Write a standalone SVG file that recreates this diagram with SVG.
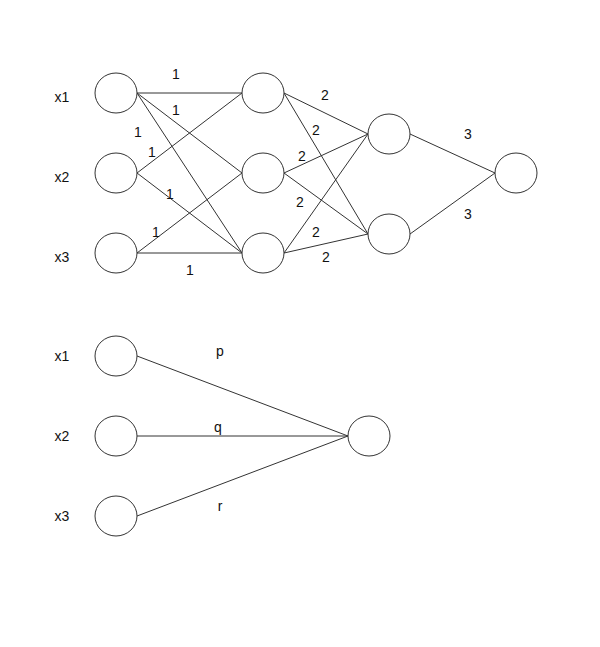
<svg xmlns="http://www.w3.org/2000/svg" width="600" height="647" viewBox="0 0 600 647">
<style>
.n{fill:#fff;stroke:#333;stroke-width:1}
.c line{stroke:#333;stroke-width:1}
text{font-family:"Liberation Sans",Arial,sans-serif;font-size:14px;fill:#111;text-anchor:middle}
</style>
<rect width="600" height="647" fill="#fff"/>
<g class="c">
<line x1="137" y1="93" x2="242" y2="93"/><line x1="137" y1="93" x2="242" y2="173"/><line x1="137" y1="93" x2="242" y2="253"/>
<line x1="137" y1="173" x2="242" y2="93"/><line x1="137" y1="173" x2="242" y2="253"/>
<line x1="137" y1="253" x2="242" y2="173"/><line x1="137" y1="253" x2="242" y2="253"/>
<line x1="284" y1="93" x2="368" y2="134"/><line x1="284" y1="93" x2="368" y2="234"/>
<line x1="284" y1="173" x2="368" y2="134"/><line x1="284" y1="173" x2="368" y2="234"/>
<line x1="284" y1="253" x2="368" y2="134"/><line x1="284" y1="253" x2="368" y2="234"/>
<line x1="410" y1="134" x2="495" y2="173"/><line x1="410" y1="234" x2="495" y2="173"/>
<line x1="137" y1="356" x2="348" y2="436"/><line x1="137" y1="436" x2="348" y2="436"/><line x1="137" y1="516" x2="348" y2="436"/>
</g>
<g id="a1"><ellipse class="n" cx="116" cy="93" rx="21" ry="20"/></g>
<g id="a2"><ellipse class="n" cx="116" cy="173" rx="21" ry="20"/></g>
<g id="a3"><ellipse class="n" cx="116" cy="253" rx="21" ry="20"/></g>
<g id="b1"><ellipse class="n" cx="263" cy="93" rx="21" ry="20"/></g>
<g id="b2"><ellipse class="n" cx="263" cy="173" rx="21" ry="20"/></g>
<g id="b3"><ellipse class="n" cx="263" cy="253" rx="21" ry="20"/></g>
<g id="c1"><ellipse class="n" cx="389" cy="134" rx="21" ry="20"/></g>
<g id="c2"><ellipse class="n" cx="389" cy="234" rx="21" ry="20"/></g>
<g id="d"><ellipse class="n" cx="516" cy="173" rx="21" ry="20"/></g>
<g id="e1"><ellipse class="n" cx="116" cy="356" rx="21" ry="20"/></g>
<g id="e2"><ellipse class="n" cx="116" cy="436" rx="21" ry="20"/></g>
<g id="e3"><ellipse class="n" cx="116" cy="516" rx="21" ry="20"/></g>
<g id="f"><ellipse class="n" cx="369" cy="436" rx="21" ry="20"/></g>
<g>
<text x="62" y="102">x1</text><text x="62" y="182">x2</text><text x="62" y="262">x3</text>
<text x="62" y="361">x1</text><text x="62" y="441">x2</text><text x="62" y="521">x3</text>
<text x="176" y="79">1</text><text x="176" y="115">1</text><text x="138" y="137">1</text><text x="152" y="157">1</text><text x="170" y="199">1</text><text x="156" y="237">1</text><text x="190" y="275">1</text>
<text x="325" y="100">2</text><text x="316" y="135">2</text><text x="302" y="161">2</text><text x="300" y="207">2</text><text x="316" y="237">2</text><text x="326" y="262">2</text>
<text x="468" y="139">3</text><text x="468" y="219">3</text>
<text x="220" y="356">p</text><text x="218" y="432">q</text><text x="220" y="511">r</text>
</g>
</svg>
